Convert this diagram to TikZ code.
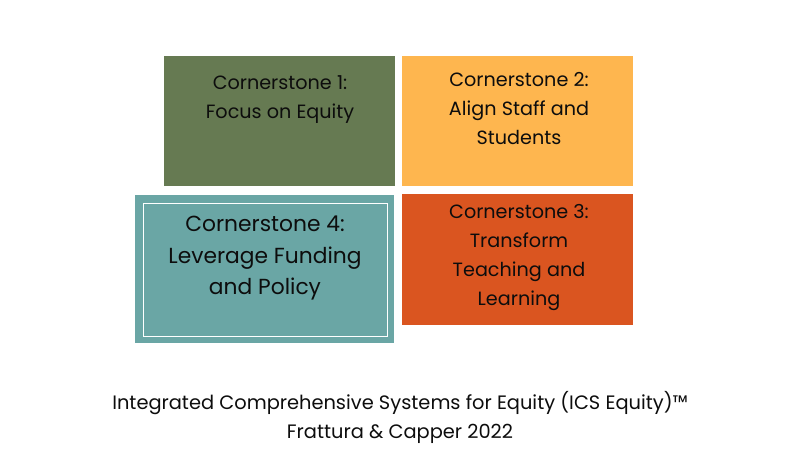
\documentclass[tikz,border=0pt]{standalone}
\usepackage{fontspec}
\setmainfont{Poppins}
\definecolor{cgreen}{HTML}{667A52}
\definecolor{corange}{HTML}{FEB64F}
\definecolor{cred}{HTML}{DA5520}
\definecolor{cteal}{HTML}{6AA6A5}
\definecolor{ctext}{HTML}{0D0D0D}
\begin{document}
\begin{tikzpicture}[x=1pt,y=-1pt,
  card/.style={draw=none,inner sep=0pt,outer sep=0pt,anchor=north west},
  lbl/.style={align=center,text=ctext,inner sep=0pt,font=\fontsize{19.2}{29}\selectfont},
  biglbl/.style={align=center,text=ctext,inner sep=0pt,font=\fontsize{21.8}{31.5}\selectfont}]
\useasboundingbox[fill=white] (0,0) rectangle (800,463);
\node[card,fill=cgreen,minimum width=231pt,minimum height=130pt] (c1) at (164,56) {};
\node[card,fill=corange,minimum width=231pt,minimum height=130pt] (c2) at (402,56) {};
\node[card,fill=cteal,minimum width=259pt,minimum height=148pt] (c4) at (135,195) {};
\node[card,fill=cred,minimum width=231pt,minimum height=131pt] (c3) at (402,194) {};
\draw[white,line width=1pt] (143,203) rectangle (387,336);
\node[lbl] (t1) at (280,99.5) {Cornerstone 1:\\Focus on Equity};
\node[lbl] (t2) at (519,109) {Cornerstone 2:\\Align Staff and\\Students};
\node[biglbl] (t4) at (265,258.5) {Cornerstone 4:\\Leverage Funding\\and Policy};
\node[lbl] (t3) at (519,258) {Cornerstone 3:\\Transform\\Teaching and\\Learning};
\node[lbl,font=\fontsize{19.4}{29}\selectfont] (cap) at (400,417.5) {Integrated Comprehensive Systems for Equity (ICS Equity)™\\Frattura \& Capper 2022};
\end{tikzpicture}
\end{document}
